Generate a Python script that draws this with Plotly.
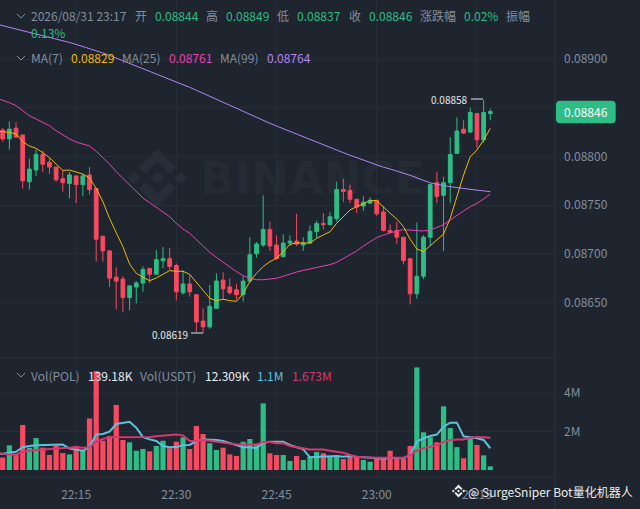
import pandas as pd
import plotly.graph_objects as go

W, H = 640, 509
times = pd.date_range("2026-08-31 22:04", periods=74, freq="min")
ma_times = pd.date_range("2026-08-31 22:03", periods=75, freq="min")

opens = [0.08827,0.08818,0.08829,0.08822,0.08774,0.08786,0.08802,0.08794,0.08789,0.08777,0.08772,0.08780,0.08771,0.08781,0.08767,0.08718,0.08703,0.08676,0.08674,0.08655,0.08666,0.08670,0.08685,0.08679,0.08693,0.08695,0.08688,0.08660,0.08669,0.08658,0.08631,0.08625,0.08644,0.08673,0.08666,0.08663,0.08658,0.08672,0.08700,0.08709,0.08725,0.08709,0.08697,0.08711,0.08713,0.08709,0.08711,0.08723,0.08731,0.08730,0.08736,0.08766,0.08765,0.08756,0.08749,0.08752,0.08755,0.08743,0.08724,0.08724,0.08717,0.08695,0.08659,0.08677,0.08717,0.08773,0.08760,0.08773,0.08803,0.08828,0.08825,0.08844,0.08817,0.08844]
highs = [0.08829,0.08836,0.08835,0.08822,0.08798,0.08807,0.08806,0.08798,0.08789,0.08786,0.08784,0.08780,0.08782,0.08789,0.08767,0.08718,0.08703,0.08686,0.08677,0.08668,0.08672,0.08687,0.08685,0.08704,0.08707,0.08706,0.08690,0.08683,0.08678,0.08658,0.08644,0.08668,0.08680,0.08681,0.08675,0.08669,0.08677,0.08717,0.08712,0.08760,0.08733,0.08719,0.08720,0.08719,0.08741,0.08717,0.08729,0.08734,0.08742,0.08743,0.08774,0.08777,0.08771,0.08756,0.08759,0.08758,0.08755,0.08749,0.08730,0.08733,0.08717,0.08695,0.08732,0.08719,0.08772,0.08784,0.08779,0.08820,0.08840,0.08837,0.08850,0.08844,0.08858,0.08849]
lows = [0.08815,0.08807,0.08819,0.08767,0.08766,0.08780,0.08784,0.08782,0.08774,0.08764,0.08757,0.08752,0.08759,0.08761,0.08692,0.08692,0.08666,0.08643,0.08640,0.08642,0.08649,0.08661,0.08670,0.08679,0.08685,0.08683,0.08652,0.08658,0.08656,0.08620,0.08619,0.08623,0.08644,0.08653,0.08658,0.08653,0.08651,0.08670,0.08696,0.08707,0.08703,0.08694,0.08697,0.08708,0.08708,0.08703,0.08710,0.08716,0.08725,0.08730,0.08733,0.08753,0.08752,0.08742,0.08744,0.08751,0.08739,0.08723,0.08721,0.08710,0.08689,0.08648,0.08654,0.08674,0.08708,0.08752,0.08703,0.08752,0.08803,0.08823,0.08824,0.08809,0.08814,0.08837]
closes = [0.08818,0.08828,0.08820,0.08775,0.08787,0.08802,0.08792,0.08789,0.08776,0.08773,0.08781,0.08771,0.08780,0.08766,0.08715,0.08703,0.08675,0.08672,0.08655,0.08667,0.08670,0.08684,0.08679,0.08694,0.08695,0.08687,0.08661,0.08669,0.08661,0.08630,0.08625,0.08646,0.08672,0.08664,0.08660,0.08658,0.08672,0.08699,0.08710,0.08725,0.08708,0.08695,0.08711,0.08713,0.08710,0.08711,0.08723,0.08731,0.08730,0.08738,0.08766,0.08764,0.08756,0.08748,0.08753,0.08755,0.08741,0.08724,0.08722,0.08717,0.08693,0.08659,0.08677,0.08717,0.08771,0.08759,0.08773,0.08802,0.08826,0.08824,0.08845,0.08817,0.08845,0.08846]

ma7 = [0.08826,0.088254,0.088247,0.08823,0.088151,0.088107,0.088083,0.088038,0.087987,0.087922,0.087857,0.08786,0.087843,0.087819,0.087778,0.087672,0.087535,0.087364,0.087217,0.087073,0.086895,0.0868,0.086759,0.086724,0.086752,0.086786,0.086827,0.08682,0.08682,0.086789,0.086704,0.086618,0.086543,0.086519,0.086533,0.086519,0.086512,0.086594,0.086714,0.0868,0.086868,0.086919,0.086954,0.087022,0.087097,0.087111,0.087111,0.087111,0.087159,0.087193,0.087227,0.087313,0.087381,0.08745,0.087484,0.087518,0.087546,0.087546,0.087477,0.087416,0.087357,0.087279,0.087149,0.08705,0.087022,0.08708,0.087138,0.087203,0.087364,0.087587,0.087809,0.087997,0.088066,0.088168,0.088288]
ma25 = [0.08860,0.088579,0.088552,0.088521,0.08847,0.088418,0.088384,0.08835,0.088316,0.088264,0.08822,0.088179,0.088148,0.088131,0.088107,0.088052,0.087987,0.087922,0.087843,0.087775,0.0877,0.087631,0.087573,0.087525,0.087477,0.087429,0.087381,0.087313,0.087255,0.08721,0.087142,0.087073,0.087015,0.086964,0.086919,0.086865,0.086817,0.086776,0.086748,0.086734,0.086734,0.086738,0.086748,0.086769,0.086793,0.086813,0.08683,0.086844,0.086861,0.086875,0.086889,0.086913,0.086954,0.086991,0.087029,0.08708,0.087125,0.087166,0.087193,0.087217,0.087234,0.087248,0.087244,0.087234,0.087234,0.087244,0.087268,0.087299,0.087347,0.087398,0.08744,0.087484,0.087518,0.087563,0.087614]
ma99 = [0.08936,0.089343,0.089324,0.089308,0.089291,0.089273,0.089258,0.089242,0.089227,0.089209,0.089191,0.08917,0.08915,0.089129,0.089107,0.089084,0.089062,0.089037,0.08901,0.088984,0.088957,0.08893,0.088903,0.088877,0.08885,0.088823,0.088795,0.088766,0.088739,0.088709,0.088679,0.088648,0.088617,0.088587,0.088556,0.088524,0.088487,0.088456,0.088425,0.088394,0.088366,0.08834,0.088312,0.088284,0.088256,0.088227,0.088199,0.08817,0.088143,0.088115,0.08809,0.088064,0.088038,0.088012,0.087987,0.087962,0.087936,0.087912,0.087889,0.087871,0.08785,0.08783,0.087806,0.08778,0.087756,0.087729,0.087714,0.0877,0.087689,0.08768,0.087669,0.08766,0.087653,0.087646,0.087638]

vol_usdt = [0.65,1.28,0.81,2.34,1.15,1.66,1.16,0.78,1.25,0.88,0.81,1.25,1.04,2.68,5.14,1.52,1.77,3.38,1.56,1.44,1.0,1.09,0.97,1.25,1.52,1.13,1.47,1.7,1.09,2.29,1.87,1.39,1.04,1.16,0.81,0.73,1.47,1.61,1.33,3.46,0.87,0.78,0.78,0.47,0.73,0.52,0.69,0.94,0.87,0.69,0.69,0.57,0.69,0.69,0.52,0.43,0.59,0.59,1.0,0.57,0.59,1.25,5.33,1.96,1.7,1.44,3.31,2.18,1.19,0.61,1.65,1.3,0.76,0.19]
vol_ma5 = [0.84,0.85,0.90,0.95,1.18,1.25,1.28,1.30,1.30,1.32,1.32,1.11,1.07,1.00,1.21,1.84,1.87,1.99,2.39,2.46,2.51,2.20,1.71,1.59,1.51,1.25,1.18,1.19,1.28,1.30,1.51,1.59,1.58,1.56,1.51,1.39,1.30,1.18,1.18,1.13,1.42,1.47,1.47,1.47,1.30,1.18,1.07,0.66,0.68,0.69,0.71,0.73,0.69,0.73,0.69,0.66,0.62,0.59,0.59,0.62,0.62,0.62,0.78,1.47,1.65,1.77,1.84,2.25,2.46,2.46,1.75,1.71,1.65,1.56,1.13]
vol_ma10 = [0.86,0.85,0.80,0.80,0.95,1.00,1.04,1.06,1.09,1.11,1.14,1.16,1.18,1.16,1.18,1.47,1.61,1.70,1.70,1.71,1.71,1.71,1.71,1.71,1.75,1.78,1.82,1.84,1.80,1.51,1.52,1.56,1.52,1.47,1.42,1.35,1.33,1.33,1.33,1.33,1.45,1.45,1.39,1.39,1.25,1.18,1.11,1.06,1.06,1.06,1.00,0.94,0.90,0.78,0.69,0.66,0.64,0.64,0.64,0.64,0.64,0.64,0.78,1.00,1.13,1.21,1.28,1.45,1.54,1.58,1.59,1.68,1.71,1.70,1.67]

GREEN, RED = "#2EBD85", "#F84960"
BG = "#1E252F"
GRID = "#262D38"
SEP = "#2B323D"
GRAY = "#848E9C"
FONT = "Noto Sans CJK SC"
LOGO = "#272E39"

def px(x):
    return x / W

def py(y):
    return 1 - y / H

def poly(pts):
    return "M" + " L".join(f"{px(a):.5f},{py(b):.5f}" for a, b in pts) + " Z"

def logo(cx, cy, s, color, layer="below"):
    def t(points):
        return [(cx + a * s, cy + b * s) for a, b in points]
    d = 6.5
    groups = [
        [(-23.5 - d, 0), (-23.5, -d), (-23.5 + d, 0), (-23.5, d)],
        [(23.5 - d, 0), (23.5, -d), (23.5 + d, 0), (23.5, d)],
        [(-d, 0), (0, -d), (d, 0), (0, d)],
        [(0, -29), (18.5, -10.5), (12, -4), (0, -16), (-12, -4), (-18.5, -10.5)],
        [(0, 29), (18.5, 10.5), (12, 4), (0, 16), (-12, 4), (-18.5, 10.5)],
    ]
    return [dict(type="path", xref="paper", yref="paper", path=poly(t(g)), fillcolor=color,
                 line=dict(width=0), layer=layer) for g in groups]

def label(x, y, text, color=GRAY, size=12, anchor="left", **extra):
    font = dict(family=FONT, size=size, color=color)
    font.update(extra)
    return dict(xref="paper", yref="paper", x=px(x), y=py(y), text=text, showarrow=False,
                xanchor=anchor, yanchor="middle", font=font, borderpad=0, borderwidth=0)

def chevron(y):
    return dict(type="path", xref="paper", yref="paper",
                path=f"M{px(17)},{py(y-2)} L{px(21)},{py(y+2)} L{px(25)},{py(y-2)}",
                line=dict(color=GRAY, width=1))

def hline(x0, x1, y, color, width=1):
    return dict(type="line", xref="paper", yref="paper", x0=px(x0), x1=px(x1), y0=py(y), y1=py(y),
                line=dict(color=color, width=width))

def rounded(x0, y0, x1, y1, r):
    a, b = px(r), r / H
    return (f"M{px(x0)+a},{py(y0)} L{px(x1)-a},{py(y0)} Q{px(x1)},{py(y0)} {px(x1)},{py(y0)-b} "
            f"L{px(x1)},{py(y1)+b} Q{px(x1)},{py(y1)} {px(x1)-a},{py(y1)} "
            f"L{px(x0)+a},{py(y1)} Q{px(x0)},{py(y1)} {px(x0)},{py(y1)+b} "
            f"L{px(x0)},{py(y0)-b} Q{px(x0)},{py(y0)} {px(x0)+a},{py(y0)} Z")

fig = go.Figure()
fig.add_trace(go.Candlestick(x=times, open=opens, high=highs, low=lows, close=closes,
                             increasing=dict(line=dict(color=GREEN, width=1), fillcolor=GREEN),
                             decreasing=dict(line=dict(color=RED, width=1), fillcolor=RED),
                             whiskerwidth=0, hoverinfo="skip", xaxis="x", yaxis="y"))
for vals, col in ((ma99, "#B385F8"), (ma25, "#EB40B5"), (ma7, "#F0B90B")):
    fig.add_trace(go.Scatter(x=ma_times, y=vals, mode="lines", line=dict(color=col, width=1),
                             hoverinfo="skip", xaxis="x", yaxis="y"))
bar_colors = [GREEN if c >= o else RED for o, c in zip(opens, closes)]
fig.add_trace(go.Bar(x=times, y=[v * 1e6 for v in vol_usdt], marker=dict(color=bar_colors, line=dict(width=0)),
                     hoverinfo="skip", xaxis="x2", yaxis="y2"))
for vals, col in ((vol_ma5, "#5BC2DE"), (vol_ma10, "#D9356E")):
    fig.add_trace(go.Scatter(x=ma_times, y=[v * 1e6 for v in vals], mode="lines", line=dict(color=col, width=2),
                             hoverinfo="skip", xaxis="x2", yaxis="y2"))

xrange_ = ["2026-08-31 22:03:36", "2026-08-31 23:26:41"]
xcommon = dict(range=xrange_, type="date", tick0="2026-08-31 22:15:00", dtick=900000, showgrid=True,
               gridcolor=GRID, gridwidth=1, zeroline=False, showline=False, ticks="",
               rangeslider=dict(visible=False), domain=[0, px(555)])

annotations = [
    label(31, 16, "2026/08/31 23:17"), label(135, 16, "开"), label(155, 16, "0.08844", GREEN),
    label(206, 16, "高"), label(226, 16, "0.08849", GREEN), label(277, 16, "低"),
    label(297, 16, "0.08837", GREEN), label(349, 16, "收"), label(369, 16, "0.08846", GREEN),
    label(420, 16, "涨跌幅"), label(464, 16, "0.02%", GREEN), label(506, 16, "振幅"),
    label(31, 32, "0.13%", GREEN),
    label(31, 58, "MA(7)"), label(71, 58, "0.08829", "#F0B90B"), label(122, 58, "MA(25)"),
    label(169, 58, "0.08761", "#EB40B5"), label(220, 58, "MA(99)"), label(267, 58, "0.08764", "#B385F8"),
    label(31, 375, "Vol(POL)"), label(88, 375, "139.18K", "#EAECEF"), label(140, 375, "Vol(USDT)"),
    label(205, 375, "12.309K", "#EAECEF"), label(257, 375, "1.1M", "#5BC2DE"), label(292, 375, "1.673M", "#D9356E"),
    label(585.7, 112, "0.08846", "#FFFFFF", anchor="center"),
    label(467.7, 99, "0.08858", "#E3E6EA", size=10, anchor="right"),
    label(187.7, 334, "0.08619", "#E3E6EA", size=10, anchor="right"),
    label(200, 179, "BINANCE", "rgba(255,255,255,0.04)", size=45, family="DejaVu Sans", weight="bold"),
    label(468, 491, "@ SurgeSniper Bot量化机器人", "#ECECEC", size=12),
]

shapes = logo(157.5, 178, 1, LOGO) + logo(458.5, 491, 0.22, "#ECECEC", layer="above") + [
    chevron(16), chevron(58), chevron(375),
    hline(471, 483, 99, "#E3E6EA"), hline(191, 203, 333, "#E3E6EA"),
    hline(0, 555, 358, SEP), hline(0, 555, 477, SEP),
    dict(type="line", xref="paper", yref="paper", x0=px(555), x1=px(555), y0=0, y1=1, line=dict(color=SEP, width=1)),
    dict(type="path", xref="paper", yref="paper", path=rounded(556, 100.7, 615.7, 123.3, 4),
         fillcolor=GREEN, line=dict(width=0), layer="below"),
]

fig.update_layout(
    width=W, height=H, autosize=False, margin=dict(l=0, r=0, t=0, b=0, pad=0),
    paper_bgcolor=BG, plot_bgcolor=BG, showlegend=False, barmode="overlay", bargap=0.22, boxgap=0.2,
    font=dict(family=FONT, size=12, color=GRAY), dragmode=False, hovermode=False,
    xaxis=dict(xcommon, anchor="y", showticklabels=False),
    xaxis2=dict(xcommon, anchor="y2", showticklabels=True, tickformat="%H:%M", ticklabelstandoff=9,
                tickfont=dict(size=12, color=GRAY), matches="x"),
    yaxis=dict(domain=[py(358), 1], range=[0.08593, 0.089606], anchor="x", side="right", tickmode="array",
               tickvals=[0.0890, 0.0885, 0.0880, 0.0875, 0.0870, 0.0865],
               ticktext=["0.08900", " ", "0.08800", "0.08750", "0.08700", "0.08650"],
               gridcolor=GRID, zeroline=False, showline=False, ticks="", ticklabelstandoff=8,
               tickfont=dict(size=12, color=GRAY)),
    yaxis2=dict(domain=[py(477), py(358)], range=[-364000, 5820000], anchor="x2", side="right", tickmode="array",
                tickvals=[2000000, 4000000], ticktext=["2M", "4M"], gridcolor=GRID, zeroline=False,
                showline=False, ticks="", ticklabelstandoff=8, tickfont=dict(size=12, color=GRAY)),
    annotations=annotations, shapes=shapes,
)

fig.write_html("out.html", config=dict(displayModeBar=False),
               post_script="document.body.style.margin='0';document.body.style.background='%s';document.body.style.overflow='hidden';" % BG)
